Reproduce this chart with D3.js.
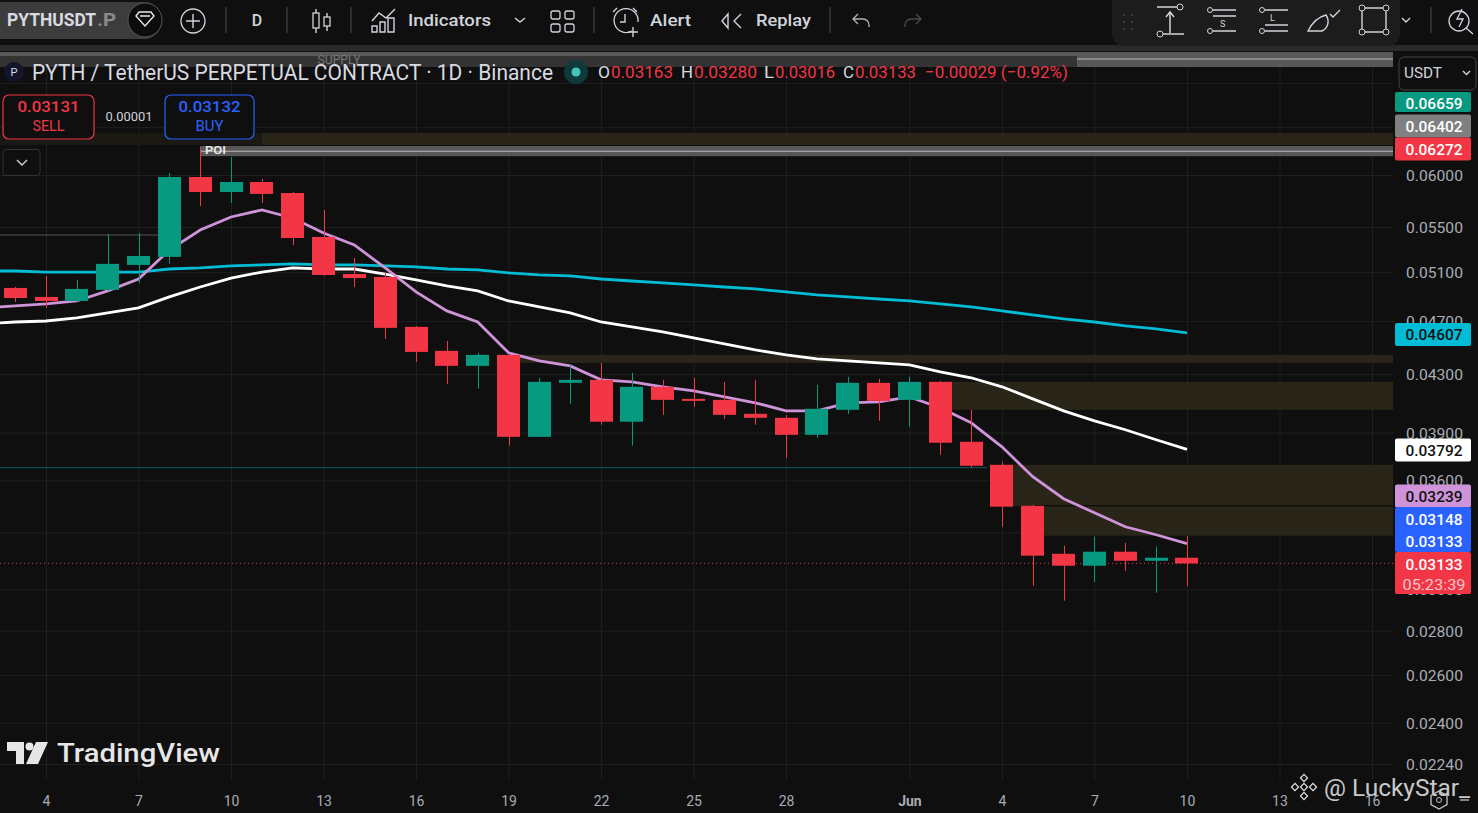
<!DOCTYPE html>
<html>
<head>
<meta charset="utf-8">
<script src="https://cdn.jsdelivr.net/npm/d3@7"></script>
<style>
  html, body { margin: 0; padding: 0; background: #0f0f0f; overflow: hidden; }
  svg { display: block; font-family: Roboto, "Liberation Sans", sans-serif; }
  .axis path { display: none; }
  .axis line { display: none; }
  .grid path { display: none; }
  .grid line { stroke: #1f1f1f; stroke-width: 1; }
</style>
</head>
<body>
<div id="chart"></div>
<script>
const symbolTitle = "PYTH / TetherUS PERPETUAL CONTRACT · 1D · Binance";

// May 2 .. Jun 10, one entry per daily bar (May 2 only feeds the lines)
const dates = [
  "2024-05-02","2024-05-03","2024-05-04","2024-05-05","2024-05-06","2024-05-07","2024-05-08","2024-05-09",
  "2024-05-10","2024-05-11","2024-05-12","2024-05-13","2024-05-14","2024-05-15","2024-05-16","2024-05-17",
  "2024-05-18","2024-05-19","2024-05-20","2024-05-21","2024-05-22","2024-05-23","2024-05-24","2024-05-25",
  "2024-05-26","2024-05-27","2024-05-28","2024-05-29","2024-05-30","2024-05-31","2024-06-01","2024-06-02",
  "2024-06-03","2024-06-04","2024-06-05","2024-06-06","2024-06-07","2024-06-08","2024-06-09","2024-06-10"
];

const opens = [.04967,.04893,.04860,.04951,.05162,.05232,.05980,.05832,.05930,.05822,.05409,.05084,.05059,.04654,.04471,.04360,
  .04441,.03872,.04238,.04259,.03971,.04210,.04126,.04119,.04024,.03997,.03885,.04051,.04238,.04119,.04245,.03840,.03695,.03450,
  .03184,.03121,.03195,.03147,.03163];
const highs = [.04975,.05068,.05034,.05436,.05445,.06020,.06286,.06182,.05960,.05832,.05659,.05223,.05093,.04661,.04546,.04456,
  .04448,.04274,.04367,.04382,.04309,.04259,.04274,.04245,.04259,.04017,.04224,.04281,.04266,.04281,.04252,.04051,.03714,.03456,
  .03227,.03276,.03243,.03222,.03280];
const lows = [.04852,.04804,.04852,.04943,.05009,.05171,.05697,.05725,.05725,.05337,.05068,.04975,.04561,.04389,.04231,.04196,
  .03815,.03872,.04092,.03951,.03815,.04017,.04071,.03990,.03951,.03738,.03866,.04024,.03977,.03938,.03757,.03677,.03331,.03018,
  .02944,.03038,.03095,.02983,.03016];
const closes = [.04884,.04860,.04959,.05171,.05240,.05980,.05832,.05930,.05813,.05400,.05076,.05050,.04646,.04463,.04360,.04441,
  .03872,.04245,.04259,.03971,.04210,.04119,.04112,.04017,.03997,.03885,.04058,.04238,.04112,.04245,.03834,.03689,.03445,.03174,
  .03121,.03195,.03147,.03163,.03133];

const maFast = [.04804,.04820,.04836,.04860,.04943,.05042,.05292,.05473,.05593,.05659,.05584,.05445,.05337,.05136,.04934,.04780,
  .04692,.04456,.04397,.04360,.04259,.04245,.04210,.04182,.04140,.04099,.04044,.04044,.04099,.04105,.04140,.04065,.03964,.03808,
  .03622,.03491,.03410,.03331,.03287,.03239];
const maMid = [.04677,.04692,.04700,.04724,.04764,.04804,.04893,.04975,.05050,.05101,.05136,.05127,.05127,.05084,.05034,.04984,
  .04943,.04860,.04812,.04764,.04692,.04654,.04615,.04569,.04523,.04478,.04441,.04411,.04397,.04382,.04367,.04317,.04274,.04210,
  .04126,.04044,.03977,.03918,.03853,.03792];
const maSlow = [.05110,.05110,.05101,.05101,.05101,.05101,.05127,.05136,.05153,.05162,.05171,.05162,.05162,.05153,.05145,.05127,
  .05119,.05093,.05076,.05068,.05042,.05025,.05009,.04992,.04975,.04959,.04934,.04909,.04893,.04876,.04860,.04836,.04812,.04780,
  .04748,.04716,.04692,.04661,.04638,.04607];

// supply/demand zones: start date, top, bottom
const zoneStarts = ["2024-05-11","2024-05-19","2024-06-02","2024-06-04","2024-06-05"];
const zoneTops = [.06436,.04441,.04245,.03695,.03450];
const zoneBottoms = [.06309,.04382,.04051,.03450,.03282];

const priceTicks = [.07,.065,.06,.055,.051,.047,.043,.039,.036,.033,.03,.028,.026,.024,.0224];
const dayTicks = ["2024-05-04","2024-05-07","2024-05-10","2024-05-13","2024-05-16","2024-05-19","2024-05-22","2024-05-25",
  "2024-05-28","2024-06-01","2024-06-04","2024-06-07","2024-06-10","2024-06-13","2024-06-16"];

const tagValues = ["0.06659","0.06402","0.06272","0.04607","0.03792","0.03239"];
const tagFills = ["#089981","#808080","#f23645","#00bcd4","#ffffff","#ce93d8"];
const tagInks = ["#fff","#fff","#fff","#111","#111","#111"];

const parse = d3.utcParse("%Y-%m-%d");
const W = 1478, H = 813, plotRight = 1393;

const svg = d3.select("#chart").append("svg").attr("width", W).attr("height", H);
svg.append("rect").attr("width", W).attr("height", H).attr("fill", "#0f0f0f");

const x = d3.scaleUtc().domain([parse("2024-05-04"), parse("2024-06-16")]).range([46, 1372]);
const y = d3.scaleLog().domain([.06, .0224]).range([175, 764]);

// fitted text, the screenshot has a squeezed font
const label = (g, px, py, str, o = {}) => {
  const t = g.append("text")
    .attr("x", px).attr("y", py)
    .attr("dy", "0.35em")
    .attr("font-size", o.size || 14)
    .attr("font-weight", o.weight || 400)
    .attr("fill", o.fill || "#d1d4dc")
    .attr("text-anchor", o.anchor || "start")
    .text(str);
  if (o.len) t.attr("textLength", o.len).attr("lengthAdjust", "spacingAndGlyphs");
  return t;
};

const plot = svg.append("g");
plot.append("clipPath").attr("id", "plotclip").append("rect")
  .attr("x", 0).attr("y", 52).attr("width", plotRight).attr("height", 728);

// grid
plot.append("g").attr("class", "grid")
  .attr("transform", `translate(0,780)`)
  .call(d3.axisBottom(x).tickValues(dayTicks.map(parse)).tickSize(-728).tickFormat(""));
plot.append("g").attr("class", "grid")
  .call(d3.axisRight(y).tickValues(priceTicks).tickSize(plotRight).tickFormat(""));

const inner = plot.append("g").attr("clip-path", "url(#plotclip)");

// zones
inner.selectAll(".zone").data(zoneStarts).enter().append("rect")
  .attr("class", "zone")
  .attr("x", d => x(parse(d)))
  .attr("y", (d, i) => y(zoneTops[i]))
  .attr("width", d => plotRight - x(parse(d)))
  .attr("height", (d, i) => y(zoneBottoms[i]) - y(zoneTops[i]))
  .attr("fill", "#2a2519");
inner.append("rect")
  .attr("x", 0).attr("y", y(zoneTops[0]))
  .attr("width", x(parse(zoneStarts[0]))).attr("height", y(zoneBottoms[0]) - y(zoneTops[0]))
  .attr("fill", "#1b1913");
inner.append("line")
  .attr("x1", x(parse(zoneStarts[4]))).attr("x2", plotRight)
  .attr("y1", y(zoneTops[4])).attr("y2", y(zoneTops[4]))
  .attr("stroke", "#050505");

// grey SUPPLY and POI bands
const bandTops = [.07371, .06298], bandBottoms = [.07188, .06192], bandLines = [.07285, .06243];
const bandStarts = [0, x(parse("2024-05-09"))];
bandTops.forEach((top, i) => {
  inner.append("rect").attr("x", bandStarts[i]).attr("y", y(top))
    .attr("width", plotRight - bandStarts[i]).attr("height", y(bandBottoms[i]) - y(top))
    .attr("fill", "#585858");
  inner.append("line").attr("x1", bandStarts[i]).attr("x2", plotRight)
    .attr("y1", y(bandLines[i])).attr("y2", y(bandLines[i]))
    .attr("stroke", "#b8b8b8").attr("stroke-width", 1.2);
});
label(plot, 205, 150.5, "POI", { size: 11, fill: "#e8e8e8", weight: 600, len: 21 });

// thin levels
inner.append("line").attr("x1", 0).attr("x2", x(parse("2024-05-08")))
  .attr("y1", y(.05427)).attr("y2", y(.05427)).attr("stroke", "#555");
inner.append("line").attr("x1", 0).attr("x2", x(parse("2024-06-03")) + 16)
  .attr("y1", y(.03677)).attr("y2", y(.03677)).attr("stroke", "#0c5f5f");
inner.append("line").attr("x1", 0).attr("x2", plotRight)
  .attr("y1", y(.03133)).attr("y2", y(.03133))
  .attr("stroke", "#f23645").attr("stroke-dasharray", "1 3");

// moving averages
const ma = d3.line().x((d, i) => x(parse(dates[i]))).y(d => y(d));
[[maSlow, "#00bcd4"], [maMid, "#ffffff"], [maFast, "#ce93d8"]].forEach(([vals, col]) => {
  inner.append("path").datum(vals)
    .attr("d", ma).attr("fill", "none")
    .attr("stroke", col).attr("stroke-width", 2.8);
});

// candles
const candleDates = dates.slice(1);
const bodyW = Math.round((x(parse("2024-05-05")) - x(parse("2024-05-04"))) * 0.75);
const isUp = i => closes[i] >= opens[i];
const candles = inner.selectAll(".candle").data(candleDates).enter().append("g").attr("class", "candle");
candles.append("line")
  .attr("x1", d => Math.round(x(parse(d))) + .5)
  .attr("x2", d => Math.round(x(parse(d))) + .5)
  .attr("y1", (d, i) => y(highs[i]))
  .attr("y2", (d, i) => y(lows[i]))
  .attr("stroke", (d, i) => isUp(i) ? "#089981" : "#f23645");
candles.append("rect")
  .attr("x", d => Math.round(x(parse(d)) - bodyW / 2))
  .attr("width", bodyW)
  .attr("y", (d, i) => y(Math.max(opens[i], closes[i])))
  .attr("height", (d, i) => Math.max(1, Math.abs(y(opens[i]) - y(closes[i]))))
  .attr("fill", (d, i) => isUp(i) ? "#089981" : "#f23645");

// axes
const fmtDay = d => d.getUTCDate() === 1 ? "Jun" : d.getUTCDate();
const xAxis = svg.append("g").attr("class", "axis")
  .attr("transform", "translate(0,793)")
  .call(d3.axisBottom(x).tickValues(dayTicks.map(parse)).tickFormat(fmtDay).tickSize(0));
xAxis.selectAll("text")
  .attr("font-size", 14).attr("fill", "#a9acb3")
  .attr("font-family", "Roboto, sans-serif")
  .attr("font-weight", d => d.getUTCDate() === 1 ? 700 : 400);

const yAxis = svg.append("g").attr("class", "axis")
  .attr("transform", "translate(1406,1)")
  .call(d3.axisRight(y).tickValues(priceTicks).tickFormat(d3.format(".5f")).tickSize(0).tickPadding(0));
yAxis.selectAll("text")
  .attr("font-size", 14).attr("fill", "#a9acb3")
  .attr("font-family", "Roboto, sans-serif")
  .attr("textLength", 57).attr("lengthAdjust", "spacingAndGlyphs");

// price tags
const tagCentres = [103.5, 126, 149, 334.5, 450, 496];
const tag = (top, h, fill) => svg.append("rect")
  .attr("x", 1395).attr("y", top).attr("width", 76).attr("height", h).attr("rx", 2).attr("fill", fill);
tagValues.forEach((v, i) => {
  tag(tagCentres[i] - 11.5, i === 0 ? 20 : 23, tagFills[i]);
  label(svg, 1434, tagCentres[i] + 1, v, { anchor: "middle", fill: tagInks[i], weight: 500, len: 57 });
});
tag(507, 45, "#2962ff");
label(svg, 1434, 520.5, "0.03148", { anchor: "middle", fill: "#fff", weight: 500, len: 57 });
label(svg, 1434, 542.5, "0.03133", { anchor: "middle", fill: "#fff", weight: 500, len: 57 });
tag(552, 42, "#f23645");
label(svg, 1434, 565.5, d3.format(".5f")(closes[closes.length - 1]), { anchor: "middle", fill: "#fff", weight: 500, len: 57 });
label(svg, 1434, 585, "05:23:39", { anchor: "middle", fill: "#fbc4c9", len: 63 });

// legend row
const last = closes.length - 1;
svg.append("rect").attr("x", 0).attr("y", 56).attr("width", 1077).attr("height", 11).attr("fill", "#333");
label(svg, 339, 60, "SUPPLY", { anchor: "middle", size: 12, fill: "#777", len: 43 });
svg.append("circle").attr("cx", 14).attr("cy", 72).attr("r", 10).attr("fill", "#14142b");
label(svg, 14, 72, "P", { anchor: "middle", size: 11, fill: "#d8d8e8" });
label(svg, 32, 72, symbolTitle, { size: 22, len: 521, fill: "#d8dae0" });
svg.append("circle").attr("cx", 576).attr("cy", 72).attr("r", 12).attr("fill", "#0f3a38");
svg.append("circle").attr("cx", 576).attr("cy", 72).attr("r", 4.5).attr("fill", "#3fc9b4");
const f5 = d3.format(".5f");
[["O", 598, 12, f5(opens[last]), 611, 62], ["H", 681, 12, f5(highs[last]), 694, 63],
 ["L", 764, 10, f5(lows[last]), 775, 60], ["C", 843, 11, f5(closes[last]), 855, 61]].forEach(([k, kx, kw, val, vx, vw]) => {
  label(svg, kx, 72, k, { size: 17, fill: "#d8dae0", len: kw });
  label(svg, vx, 72, val, { size: 17, fill: "#f23645", len: vw });
});
label(svg, 925, 72, "−0.00029 (−0.92%)", { size: 17, fill: "#f23645", len: 143 });

// sell / buy
const orderBox = (bx, bw, col, val, name, nameLen) => {
  svg.append("rect").attr("x", bx).attr("y", 95).attr("width", bw).attr("height", 44).attr("rx", 6)
    .attr("fill", "#0f0f0f").attr("stroke", col).attr("stroke-width", 1.2);
  label(svg, bx + bw / 2, 107, val, { anchor: "middle", size: 14.5, fill: col, weight: 500, len: 62 });
  label(svg, bx + bw / 2, 126, name, { anchor: "middle", size: 14, fill: col, len: nameLen });
};
orderBox(3, 91, "#f23645", "0.03131", "SELL", 32);
orderBox(165, 89, "#2962ff", "0.03132", "BUY", 28);
label(svg, 129, 117, "0.00001", { anchor: "middle", size: 12, fill: "#d1d4dc", len: 47 });
svg.append("rect").attr("x", 3).attr("y", 149.5).attr("width", 37).attr("height", 26).attr("rx", 3)
  .attr("fill", "#0f0f0f").attr("stroke", "#333");

const stroke = (g = svg) => (d, w = 1.4, col = "#d1d4dc") => g.append("path").attr("d", d)
  .attr("fill", "none").attr("stroke", col).attr("stroke-width", w);
const draw = stroke();
draw("M17 160l5 5l5 -5");

// USDT selector
svg.append("rect").attr("x", 1399).attr("y", 57).attr("width", 77).attr("height", 33).attr("rx", 5)
  .attr("fill", "#0f0f0f").attr("stroke", "#444");
label(svg, 1404, 73, "USDT", { size: 15, len: 38 });
draw("M1463 71l3.5 3.5l3.5 -3.5");

// top bar
svg.append("rect").attr("x", 0).attr("y", 0).attr("width", W).attr("height", 45).attr("fill", "#0f0f0f");
svg.append("rect").attr("x", 0).attr("y", 45).attr("width", W).attr("height", 6).attr("fill", "#2a2a2a");
svg.append("rect").attr("x", -20).attr("y", 2).attr("width", 182).attr("height", 37).attr("rx", 18).attr("fill", "#3c3c3c");
label(svg, 7, 20, "PYTHUSDT", { size: 18, weight: 700, fill: "#d8dae0", len: 89 });
label(svg, 97, 20, ".P", { size: 18, weight: 700, fill: "#8a8a8a", len: 19 });
svg.append("circle").attr("cx", 145).attr("cy", 20).attr("r", 17).attr("fill", "#0c0c0c").attr("stroke", "#555");
draw("M136 16l3 -4h12l3 4l-9 10zM140 16h10", 1.4, "#e8e8e8");

svg.append("circle").attr("cx", 193).attr("cy", 21).attr("r", 12).attr("fill", "none").attr("stroke", "#d1d4dc").attr("stroke-width", 1.3);
draw("M193 14v14M186 21h14");
[226, 287, 351, 594, 830].forEach(sx => {
  svg.append("line").attr("x1", sx).attr("x2", sx).attr("y1", 7).attr("y2", 33).attr("stroke", "#3a3a3a").attr("stroke-width", 1.5);
});
label(svg, 257, 20, "D", { anchor: "middle", size: 16, weight: 500 });
// candle icon
draw("M316 9v24M327 13v18");
svg.append("rect").attr("x", 313).attr("y", 13).attr("width", 6).attr("height", 15).attr("fill", "#0f0f0f").attr("stroke", "#d1d4dc").attr("stroke-width", 1.3);
svg.append("rect").attr("x", 324).attr("y", 17).attr("width", 6).attr("height", 9).attr("fill", "#0f0f0f").attr("stroke", "#d1d4dc").attr("stroke-width", 1.3);
// indicators icon
draw("M372 21l7 -8l7 5l9 -9M372 32v-6h5v6zM380 32v-10h5v10zM388 32v-14h6v14z");
label(svg, 408, 20, "Indicators", { size: 17, weight: 500, len: 83 });
draw("M515 18l5 4l5 -4");
[[551, 11], [565, 11], [551, 24], [565, 24]].forEach(([sx, sy]) => {
  svg.append("rect").attr("x", sx).attr("y", sy).attr("width", 9).attr("height", 8).attr("rx", 2)
    .attr("fill", "none").attr("stroke", "#d1d4dc").attr("stroke-width", 1.3);
});
// alert
svg.append("path").attr("d", "M632 31a12 12 0 1 1 6 -9").attr("fill", "none").attr("stroke", "#d1d4dc").attr("stroke-width", 1.3);
draw("M625 14v8h-5M633 27v10M628 32h10M613 12l4 -4M637 12l-4 -4");
label(svg, 650, 20, "Alert", { size: 17, weight: 500, len: 41 });
// replay
draw("M728 14l-6 7l6 7zM741 14l-7 7l7 7");
label(svg, 756, 20, "Replay", { size: 17, weight: 500, len: 55 });
draw("M858 14l-5 5l5 5M853 19h10a6 6 0 0 1 6 6v2", 1.3, "#b0b3ba");
draw("M916 14l5 5l-5 5M921 19h-10a6 6 0 0 0 -6 6v2", 1.3, "#4a4a4a");

// drawing toolbar
svg.append("path").attr("d", "M1112 0h288v34a12 12 0 0 1 -12 12h-264a12 12 0 0 1 -12 -12z").attr("fill", "#1c1c1c");
[1123, 1131].forEach(dx => [14, 21, 28].forEach(dy => {
  svg.append("rect").attr("x", dx).attr("y", dy).attr("width", 2).attr("height", 2).attr("fill", "#3d3d3d");
}));
draw("M1157 7h20M1163 34h21M1170 33v-20M1166 17l4 -5l4 5", 1.5);
svg.append("circle").attr("cx", 1180).attr("cy", 7).attr("r", 3).attr("fill", "none").attr("stroke", "#d1d4dc");
svg.append("circle").attr("cx", 1160).attr("cy", 34).attr("r", 3).attr("fill", "none").attr("stroke", "#d1d4dc");
draw("M1213 10h23M1213 16h23M1213 31h23", 1.3);
label(svg, 1220, 24, "S", { size: 9, fill: "#d1d4dc" });
draw("M1265 10h23M1265 25h23M1265 31h23", 1.3);
label(svg, 1270, 18, "L", { size: 9, fill: "#d1d4dc" });
[[1208, 10], [1208, 31], [1260, 10], [1260, 31]].forEach(([cx, cy]) => {
  svg.append("circle").attr("cx", cx + 2).attr("cy", cy).attr("r", 2.5).attr("fill", "#1c1c1c").attr("stroke", "#d1d4dc");
});
draw("M1308 31h14c6 -3 8 -10 4 -16c-8 2 -14 8 -18 16zM1330 14l3 3l7 -7", 1.4);
draw("M1362 8h24v24h-24z", 1.4);
[[1362, 8], [1386, 8], [1362, 32], [1386, 32]].forEach(([cx, cy]) => {
  svg.append("circle").attr("cx", cx).attr("cy", cy).attr("r", 3).attr("fill", "#1c1c1c").attr("stroke", "#d1d4dc");
});
draw("M1402 18l4 4l4 -4");
svg.append("line").attr("x1", 1431).attr("x2", 1431).attr("y1", 7).attr("y2", 33).attr("stroke", "#3a3a3a").attr("stroke-width", 1.5);
svg.append("circle").attr("cx", 1459).attr("cy", 21).attr("r", 10).attr("fill", "none").attr("stroke", "#d1d4dc").attr("stroke-width", 1.3);
draw("M1466 28l7 6M1462 9l-5 10h6l-4 8", 1.3);

// TradingView mark
svg.append("path").attr("d", "M7 742h17v22h-8v-13h-9zM36 742h12l-10 22h-12z").attr("fill", "#e6e6e6");
svg.append("circle").attr("cx", 29.5).attr("cy", 746.5).attr("r", 4).attr("fill", "#e6e6e6");
label(svg, 57, 753, "TradingView", { size: 26, weight: 500, fill: "#e6e6e6", len: 163 });

// watermark
[[1304, 778], [1295, 787], [1313, 787], [1304, 796], [1304, 787]].forEach(([cx, cy]) => {
  svg.append("rect").attr("x", cx - 2.5).attr("y", cy - 2.5).attr("width", 5).attr("height", 5)
    .attr("transform", `rotate(45 ${cx} ${cy})`).attr("fill", "none").attr("stroke", "#e0e0e0").attr("stroke-width", 1.2);
});
label(svg, 1324, 788, "@ LuckyStar_", { size: 24, fill: "#c9c9c9", len: 146 });
draw("M1439 791l8 4.5v9l-8 4.5l-8 -4.5v-9z", 1.3, "#c4c4c4");
svg.append("circle").attr("cx", 1439).attr("cy", 800).attr("r", 2.5).attr("fill", "none").attr("stroke", "#c4c4c4");
draw("M1460 800h9", 1.3, "#c4c4c4");
</script>
</body>
</html>
